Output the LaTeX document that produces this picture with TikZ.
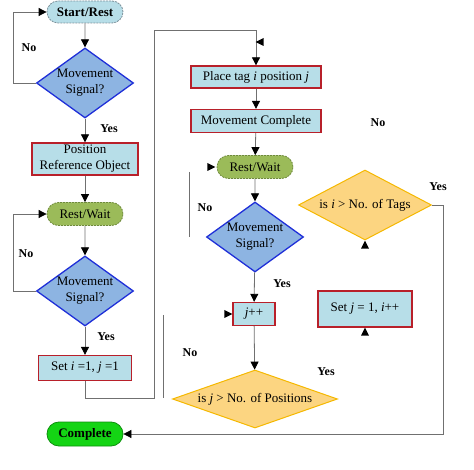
\documentclass[tikz,border=0pt]{standalone}
\usepackage{fontspec}
\setmainfont{Liberation Serif}
\usetikzlibrary{arrows.meta,shapes.geometric,shapes.misc}
\definecolor{boxblue}{HTML}{B7DEE8}
\definecolor{boxred}{HTML}{B8202A}
\definecolor{dmdblue}{HTML}{8DB4E2}
\definecolor{dmdedge}{HTML}{1F2FD8}
\definecolor{ylw}{HTML}{FCD581}
\definecolor{ylwedge}{HTML}{F5B800}
\definecolor{olivefill}{HTML}{9BBB59}
\definecolor{olivedge}{HTML}{6E8A3A}
\definecolor{grnfill}{HTML}{14D414}
\definecolor{grnedge}{HTML}{0E8F0E}
\definecolor{startedge}{HTML}{7A8F99}
\definecolor{ln}{HTML}{707070}
\newcommand{\fsz}{\fontsize{13}{16}\selectfont}
\begin{document}
\begin{tikzpicture}[x=1pt,y=-1pt,
  proc/.style={rectangle, draw=boxred, line width=1.3pt, fill=boxblue, inner sep=0pt, font=\fsz, align=center},
  termstart/.style={rounded rectangle, draw=startedge, dash pattern=on 2pt off 1pt, line width=0.8pt, fill=boxblue, inner sep=0pt, minimum width=76pt, minimum height=22pt, font=\bfseries\fsz},
  termwait/.style={rounded rectangle, draw=olivedge, dash pattern=on 2pt off 1pt, line width=0.8pt, fill=olivefill, inner sep=0pt, minimum width=76pt, minimum height=23pt, font=\fsz},
  termend/.style={rounded rectangle, draw=grnedge, line width=0.8pt, fill=grnfill, inner sep=0pt, minimum width=76pt, minimum height=24pt, font=\bfseries\fsz},
  dmd/.style={diamond, draw=dmdedge, fill=dmdblue, line width=1.3pt, inner sep=0pt},
  ydmd/.style={diamond, draw=ylwedge, fill=ylw, line width=1pt, inner sep=0pt},
  dtext/.style={font=\fsz, align=center, inner sep=0pt},
  lbl/.style={font=\bfseries\fontsize{12}{14}\selectfont, inner sep=0pt},
  flow/.style={draw=ln, line width=0.8pt, -{Triangle[length=8pt,width=8pt,color=black]}},
  plain/.style={draw=ln, line width=0.8pt},
  tiponly/.style={isosceles triangle, isosceles triangle stretches, fill=black, inner sep=0pt, minimum width=8pt, minimum height=8pt, anchor=apex}
]
\useasboundingbox (0,0) rectangle (474,470);

% left column
\node[termstart] (start) at (85,12) {Start/Rest};
\node[dmd, minimum width=97pt, minimum height=70pt] (d1) at (85,83) {};
\node[dtext] (d1t) at (d1) {Movement\\Signal?};
\node[proc, minimum width=106pt, minimum height=32pt] (pro) at (85,159) {Position\\Reference Object};
\node[termwait] (rw1) at (85,214) {Rest/Wait};
\node[dmd, minimum width=97pt, minimum height=70pt] (d2) at (85,291) {};
\node[dtext] (d2t) at (d2) {Movement\\Signal?};
\node[proc, minimum width=93pt, minimum height=25pt] (set1) at (85,368) {Set \textit{i} =1, \textit{j} =1};
\node[termend] (done) at (85,434) {Complete};

% middle column
\node[proc, minimum width=130pt, minimum height=22pt] (place) at (256,77) {Place tag \textit{i} position \textit{j}};
\node[proc, minimum width=130pt, minimum height=23pt] (mc) at (256,121) {Movement Complete};
\node[termwait] (rw2) at (255,167) {Rest/Wait};
\node[dmd, minimum width=97pt, minimum height=70pt] (d3) at (255,237) {};
\node[dtext] (d3t) at (d3) {Movement\\Signal?};
\node[proc, minimum width=42pt, minimum height=23pt] (jpp) at (254,314) {\textit{j}++};
\node[ydmd, minimum width=165pt, minimum height=58pt] (d4) at (255,399) {};
\node[dtext] (d4t) at (d4) {is \textit{j} {>} No. of Positions};

% right column
\node[ydmd, minimum width=133pt, minimum height=70pt] (d5) at (365,205) {};
\node[dtext] (d5t) at (d5) {is \textit{i} {>} No. of Tags};
\node[proc, minimum width=94pt, minimum height=36pt] (set2) at (365,309) {Set \textit{j} = 1, \textit{i}++};

% labels
\node[lbl] (n1) at (29,48) {No};
\node[lbl] (y1) at (109,129) {Yes};
\node[lbl] (n2) at (26,254) {No};
\node[lbl] (y2) at (106,337) {Yes};
\node[lbl] (n3) at (205,208) {No};
\node[lbl] (y3) at (282,284) {Yes};
\node[lbl] (n4) at (190,353) {No};
\node[lbl] (y4) at (326,372) {Yes};
\node[lbl] (n5) at (378,123) {No};
\node[lbl] (y5) at (438,187) {Yes};

% coordinates
\coordinate (cb) at (154,398);
\coordinate (ct) at (154,30);
\coordinate (cr) at (443,434);
\coordinate (va) at (189,172);
\coordinate (vb) at (189,237);
\coordinate (wa) at (163,315);
\coordinate (wb) at (163,398);

% connectors
\draw[flow] (start) -- (d1);
\draw[flow] (d1.west) -- ++(-22,0) |- (start.west);
\draw[flow] (d1) -- (pro);
\draw[flow] (pro) -- (rw1);
\draw[flow] (rw1) -- (d2);
\draw[flow] (d2.west) -- ++(-22,0) |- (rw1.west);
\draw[flow] (d2) -- (set1);
\draw[flow] (set1.south) |- (cb) -- (ct) -| (place.north);
\draw[flow] (place) -- (mc);
\draw[flow] (mc) -- (rw2);
\draw[flow] (rw2) -- (d3);
\draw[plain] (va) -- (vb);
\draw[flow] (d3) -- (jpp);
\draw[flow] (jpp) -- (d4);
\draw[plain] (wa) -- (wb);
\draw[flow] (d5.east) -| (cr) -- (done.east);

% orphan arrowheads
\node[tiponly, shape border rotate=180] (t1) at (255,42) {};
\node[tiponly, shape border rotate=0] (t2) at (216,167) {};
\node[tiponly, shape border rotate=0] (t3) at (233,314) {};
\node[tiponly, shape border rotate=90] (t4) at (365,240) {};
\node[tiponly, shape border rotate=90] (t5) at (365,327) {};
\end{tikzpicture}
\end{document}
